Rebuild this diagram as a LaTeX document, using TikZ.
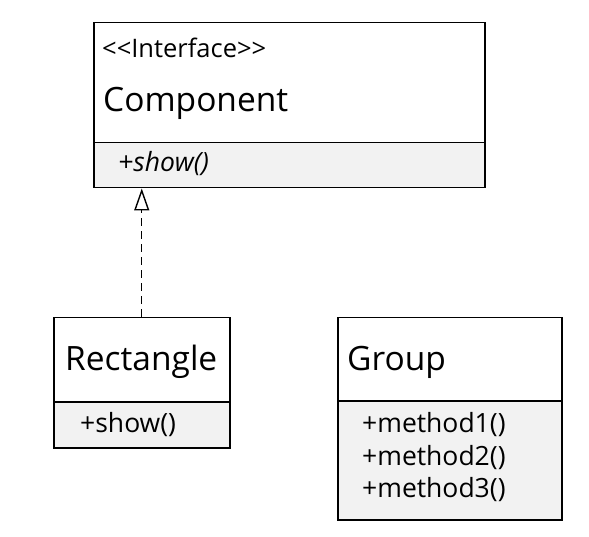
\documentclass[tikz,border=0pt]{standalone}
\usepackage{fontspec}
\setmainfont{Open Sans}
\usetikzlibrary{arrows.meta}
\definecolor{compfill}{HTML}{F2F2F2}
\tikzset{
  box/.style={draw=black, line width=1.5pt, inner sep=0pt, anchor=north west, rectangle},
  opbox/.style={box, fill=compfill},
  txt/.style={anchor=base west, inner sep=0pt},
  big/.style={txt, font=\fontsize{33.5}{40}\selectfont},
  mid/.style={txt, font=\fontsize{25.5}{30}\selectfont},
  ops/.style={txt, font=\fontsize{26.5}{32}\selectfont},
  realize/.style={line width=1.4pt, dash pattern=on 8pt off 5pt, -{Triangle[open, length=22pt, width=15pt, line width=1.4pt]}, fill=white}
}
\begin{document}
\begin{tikzpicture}[x=1pt, y=-1pt]
\useasboundingbox (0,0) rectangle (589,537);
% Component
\node[box, minimum width=391pt, minimum height=120pt] (comphead) at (93,22) {};
\node[opbox, minimum width=391pt, minimum height=45pt] (compops) at (93,142) {};
\node[mid] (stereo) at (102,58) {<{}<Interface>{}>};
\node[big] (compname) at (103,112) {Component};
\node[ops, font=\fontsize{26.5}{32}\selectfont\itshape] (compshow) at (118,172) {+show()};
% Rectangle
\node[box, minimum width=176pt, minimum height=84pt] (recthead) at (53,317) {};
\node[opbox, minimum width=176pt, minimum height=46pt] (rectops) at (53,401) {};
\node[big] (rectname) at (65,370) {Rectangle};
\node[ops] (rectshow) at (80,432) {+show()};
% Group
\node[box, minimum width=224pt, minimum height=83pt] (grouphead) at (337,317) {};
\node[opbox, minimum width=224pt, minimum height=119pt] (groupops) at (337,400) {};
\node[big] (groupname) at (347,370) {Group};
\node[ops] (m1) at (362,432) {+method1()};
\node[ops] (m2) at (362,465) {+method2()};
\node[ops] (m3) at (362,497) {+method3()};
% realization
\draw[realize] (recthead.north) -- (recthead.north |- compops.south);
\end{tikzpicture}
\end{document}
